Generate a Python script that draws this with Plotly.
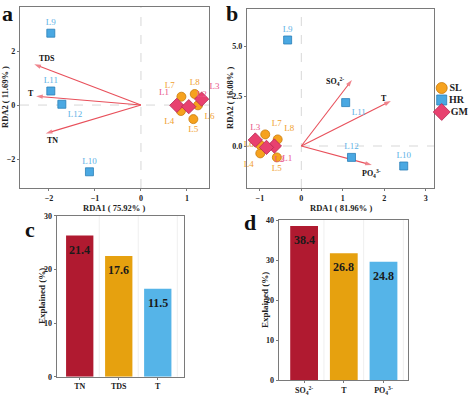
import plotly.graph_objects as go

# ---------------- data ----------------
# Panel a (RDA)
a_SL_sites = ["L4", "L5", "L6", "L7", "L8"]
a_SL_x = [0.87, 1.14, 1.24, 0.88, 1.17]
a_SL_y = [-0.22, -0.52, -0.01, 0.31, 0.41]
a_HR_sites = ["L9", "L10", "L11", "L12"]
a_HR_x = [-1.96, -1.12, -1.96, -1.72]
a_HR_y = [2.66, -2.47, 0.52, 0.03]
a_GM_sites = ["L1", "L2", "L3"]
a_GM_x = [0.78, 1.04, 1.32]
a_GM_y = [-0.01, -0.06, 0.22]
a_env = ["TDS", "T", "TN"]
a_env_x = [-2.32, -2.28, -2.07]
a_env_y = [1.51, 0.33, -1.05]

# Panel b (RDA)
b_SL_sites = ["L4", "L5", "L6", "L7", "L8"]
b_SL_x = [-0.99, -0.59, -0.99, -0.87, -0.57]
b_SL_y = [-0.37, -0.57, 0.05, 0.58, 0.33]
b_HR_sites = ["L9", "L10", "L11", "L12"]
b_HR_x = [-0.33, 2.47, 1.07, 1.21]
b_HR_y = [5.3, -1.0, 2.17, -0.57]
b_GM_sites = ["L1", "L2", "L3"]
b_GM_x = [-0.65, -0.84, -1.11]
b_GM_y = [0.0, -0.07, 0.3]
b_env = ["SO<sub>4</sub><sup>2-</sup>", "T", "PO<sub>4</sub><sup>3-</sup>"]
b_env_x = [1.22, 2.16, 1.70]
b_env_y = [3.3, 2.25, -0.95]

# Panel c (bars)
c_vars = ["TN", "TDS", "T"]
c_height = [26.3, 22.5, 16.4]
c_label = [21.4, 17.6, 11.5]

# Panel d (bars)
d_vars = ["SO<sub>4</sub><sup>2-</sup>", "T", "PO<sub>4</sub><sup>3-</sup>"]
d_height = [38.5, 31.7, 29.6]
d_label = [38.4, 26.8, 24.8]

groups = ["SL", "HR", "GM"]
a_xtitle, a_ytitle = "RDA1 ( 75.92% )", "RDA2 ( 11.69% )"
b_xtitle, b_ytitle = "RDA1 ( 81.96% )", "RDA2 ( 16.08% )"

# ---------------- style ----------------
SERIF = "Liberation Serif"
W, H = 474, 395
STY = {
    "SL": dict(fill="#F6A21E", line="#C87A0A", txt="#F0A030", symbol="circle", size=9),
    "HR": dict(fill="#4AA8E2", line="#2A7FB8", txt="#5DB2E6", symbol="square", size=8),
    "GM": dict(fill="#E8416F", line="#B52A55", txt="#E8558A", symbol="diamond", size=11),
}
ARROW = "#E8505B"
BAR_COLORS = ["#B01A30", "#E6A10F", "#55B4E8"]
FRAME = "#7a7a7a"


def px_x(p):
    return p / W


def px_y(p):
    return 1 - p / H


fig = go.Figure()

# text positions (styling only)
POS = {
    ("a", "SL"): ["bottom left", "bottom center", "bottom right", "top left", "top center"],
    ("a", "HR"): ["top center", "top center", "top center", "bottom right"],
    ("a", "GM"): ["top left", "top right", "top right"],
    ("b", "SL"): ["bottom left", "bottom center", "middle left", "top right", "top right"],
    ("b", "HR"): ["top center", "top center", "bottom right", "top center"],
    ("b", "GM"): ["bottom right", "bottom right", "top center"],
}

DATA = {
    ("a", "SL"): (a_SL_x, a_SL_y, a_SL_sites),
    ("a", "HR"): (a_HR_x, a_HR_y, a_HR_sites),
    ("a", "GM"): (a_GM_x, a_GM_y, a_GM_sites),
    ("b", "SL"): (b_SL_x, b_SL_y, b_SL_sites),
    ("b", "HR"): (b_HR_x, b_HR_y, b_HR_sites),
    ("b", "GM"): (b_GM_x, b_GM_y, b_GM_sites),
}
AX = {"a": ("x", "y"), "b": ("x2", "y2")}

# arrows (drawn first, below points)
for p, names, xs, ys in [("a", a_env, a_env_x, a_env_y), ("b", b_env, b_env_x, b_env_y)]:
    xa, ya = AX[p]
    for n, ex, ey in zip(names, xs, ys):
        fig.add_trace(go.Scatter(
            x=[0, ex], y=[0, ey], mode="lines+markers", xaxis=xa, yaxis=ya, showlegend=False,
            line=dict(color=ARROW, width=1.1), hoverinfo="skip",
            marker=dict(symbol="arrow", size=[0, 7], angleref="previous", color=ARROW,
                        line=dict(width=0))))

for p in ["a", "b"]:
    xa, ya = AX[p]
    for g in groups:
        x, y, sites = DATA[(p, g)]
        s = STY[g]
        fig.add_trace(go.Scatter(
            x=x, y=y, text=sites, mode="markers+text", textposition=POS[(p, g)],
            textfont=dict(family=SERIF, size=9, color=s["txt"]),
            marker=dict(symbol=s["symbol"], size=s["size"], color=s["fill"],
                        line=dict(color=s["line"], width=0.8)),
            name=g, showlegend=False, xaxis=xa, yaxis=ya, cliponaxis=False))

# manual legend on a hidden axis
for i, g in enumerate(groups):
    s = STY[g]
    fig.add_trace(go.Scatter(
        x=[0.15], y=[len(groups) - 1 - i], text=[g], mode="markers+text", textposition="middle right",
        textfont=dict(family=SERIF, size=10, color="#222", weight="bold"),
        marker=dict(symbol=s["symbol"], size=s["size"] + 2, color=s["fill"],
                    line=dict(color=s["line"], width=0.8)),
        xaxis="x5", yaxis="y5", showlegend=False, cliponaxis=False))

# bars
fig.add_trace(go.Bar(x=list(range(len(c_vars))), y=c_height, marker=dict(color=BAR_COLORS, line=dict(width=0)),
                     width=0.7, xaxis="x3", yaxis="y3", showlegend=False))
fig.add_trace(go.Bar(x=list(range(len(d_vars))), y=d_height, marker=dict(color=BAR_COLORS, line=dict(width=0)),
                     width=0.7, xaxis="x4", yaxis="y4", showlegend=False))

annotations = []
# env labels near arrow tips
a_lab_shift = [(13, 6), (-5, 3), (7, -7)]
b_lab_shift = [(-17, -1), (-7, 3), (0, -8)]
for names, xs, ys, shifts, xr, yr in [(a_env, a_env_x, a_env_y, a_lab_shift, "x", "y"),
                                       (b_env, b_env_x, b_env_y, b_lab_shift, "x2", "y2")]:
    for n, ex, ey, (sx, sy) in zip(names, xs, ys, shifts):
        annotations.append(dict(x=ex, y=ey, xref=xr, yref=yr, text=n, showarrow=False,
                                xshift=sx, yshift=sy,
                                font=dict(family=SERIF, size=8, color="#111", weight="bold")))

# bar value labels
for vals, heights, xr, yr in [(c_label, c_height, "x3", "y3"), (d_label, d_height, "x4", "y4")]:
    for i, (v, h) in enumerate(zip(vals, heights)):
        annotations.append(dict(x=i, y=h, xref=xr, yref=yr, text=f"{v:.1f}", showarrow=False,
                                yanchor="middle", yshift=-14,
                                font=dict(family=SERIF, size=12, color="#1a1a1a", weight="bold")))


def title(text, x, y, angle=0, size=8.5):
    annotations.append(dict(x=px_x(x), y=px_y(y), xref="paper", yref="paper", text=text, showarrow=False,
                            textangle=angle, xanchor="center", yanchor="middle",
                            font=dict(family=SERIF, size=size, color="#222", weight="bold")))


title(a_xtitle, 114, 207.5)
title(a_ytitle, 5, 97, -90)
title(b_xtitle, 341, 207.5)
title(b_ytitle, 230, 98, -90)
title("Explained (%)", 42, 296, -90, 9)
title("Explained (%)", 265, 300, -90, 9)

# panel letters
for t, x, y in [("a", 8, 14), ("b", 232, 14), ("c", 30, 229), ("d", 250, 222)]:
    annotations.append(dict(x=px_x(x), y=px_y(y), xref="paper", yref="paper", text=t, showarrow=False,
                            xanchor="center", yanchor="middle",
                            font=dict(family=SERIF, size=22, color="#111", weight="bold")))

tickfont = dict(family=SERIF, size=8, color="#222", weight="bold")
frame = dict(showline=True, mirror=True, linecolor=FRAME, linewidth=1.2, ticks="outside",
             ticklen=2, tickcolor=FRAME, zeroline=False, showgrid=False, tickfont=tickfont,
             automargin=False)
hidden = dict(visible=False, showgrid=False, zeroline=False, automargin=False, fixedrange=True)

fig.update_layout(
    width=W, height=H, margin=dict(l=0, r=0, t=0, b=0, autoexpand=False),
    paper_bgcolor="white", plot_bgcolor="white",
    annotations=annotations, showlegend=False,
    xaxis=dict(domain=[px_x(20), px_x(209)], range=[-2.63, 1.48], dtick=1, anchor="y", **frame),
    yaxis=dict(domain=[px_y(188), px_y(7)], range=[-3.07, 3.63], dtick=2, anchor="x", **frame),
    xaxis2=dict(domain=[px_x(247), px_x(434)], range=[-1.31, 3.2], dtick=1, anchor="y2", **frame),
    yaxis2=dict(domain=[px_y(188), px_y(9)], range=[-2.1, 6.85], dtick=2.5, tickformat=".1f", anchor="x2", **frame),
    xaxis3=dict(domain=[px_x(56.7), px_x(184.3)], range=[-0.59, 2.68], tickvals=list(range(len(c_vars))),
                ticktext=c_vars, anchor="y3", **frame),
    yaxis3=dict(domain=[px_y(376.7), px_y(215.7)], range=[0, 30], dtick=10, anchor="x3", **frame),
    xaxis4=dict(domain=[px_x(278.7), px_x(407.7)], range=[-0.64, 2.61], tickvals=list(range(len(d_vars))),
                ticktext=d_vars, anchor="y4", **frame),
    yaxis4=dict(domain=[px_y(380.3), px_y(220)], range=[0, 40], dtick=10, anchor="x4", **frame),
    xaxis5=dict(domain=[px_x(436), px_x(474)], range=[0, 1], anchor="y5", **hidden),
    yaxis5=dict(domain=[px_y(118), px_y(82)], range=[-0.5, 2.5], anchor="x5", **hidden),
)

# dashed zero lines and faint gridlines
shapes = []
for xr, yr in [("x", "y"), ("x2", "y2")]:
    shapes.append(dict(type="line", xref=xr, yref=f"{yr} domain", x0=0, x1=0, y0=0, y1=1,
                       line=dict(color="#d2d2d2", width=0.9, dash="dash"), layer="below"))
    shapes.append(dict(type="line", xref=f"{xr} domain", yref=yr, x0=0, x1=1, y0=0, y1=0,
                       line=dict(color="#d2d2d2", width=0.9, dash="dash"), layer="below"))
for xr, yr, n in [("x3", "y3", len(c_vars)), ("x4", "y4", len(d_vars))]:
    for k in range(n):
        shapes.append(dict(type="line", xref=xr, yref=f"{yr} domain", x0=k + 0.5, x1=k + 0.5, y0=0, y1=1,
                           line=dict(color="#efefef", width=1), layer="below"))
fig.update_layout(shapes=shapes)

fig.write_html(
    "out.html",
    config={"displayModeBar": False},
    post_script="document.body.style.margin='0';document.body.style.padding='0';"
                "document.documentElement.style.margin='0';document.body.style.overflow='hidden';",
)
